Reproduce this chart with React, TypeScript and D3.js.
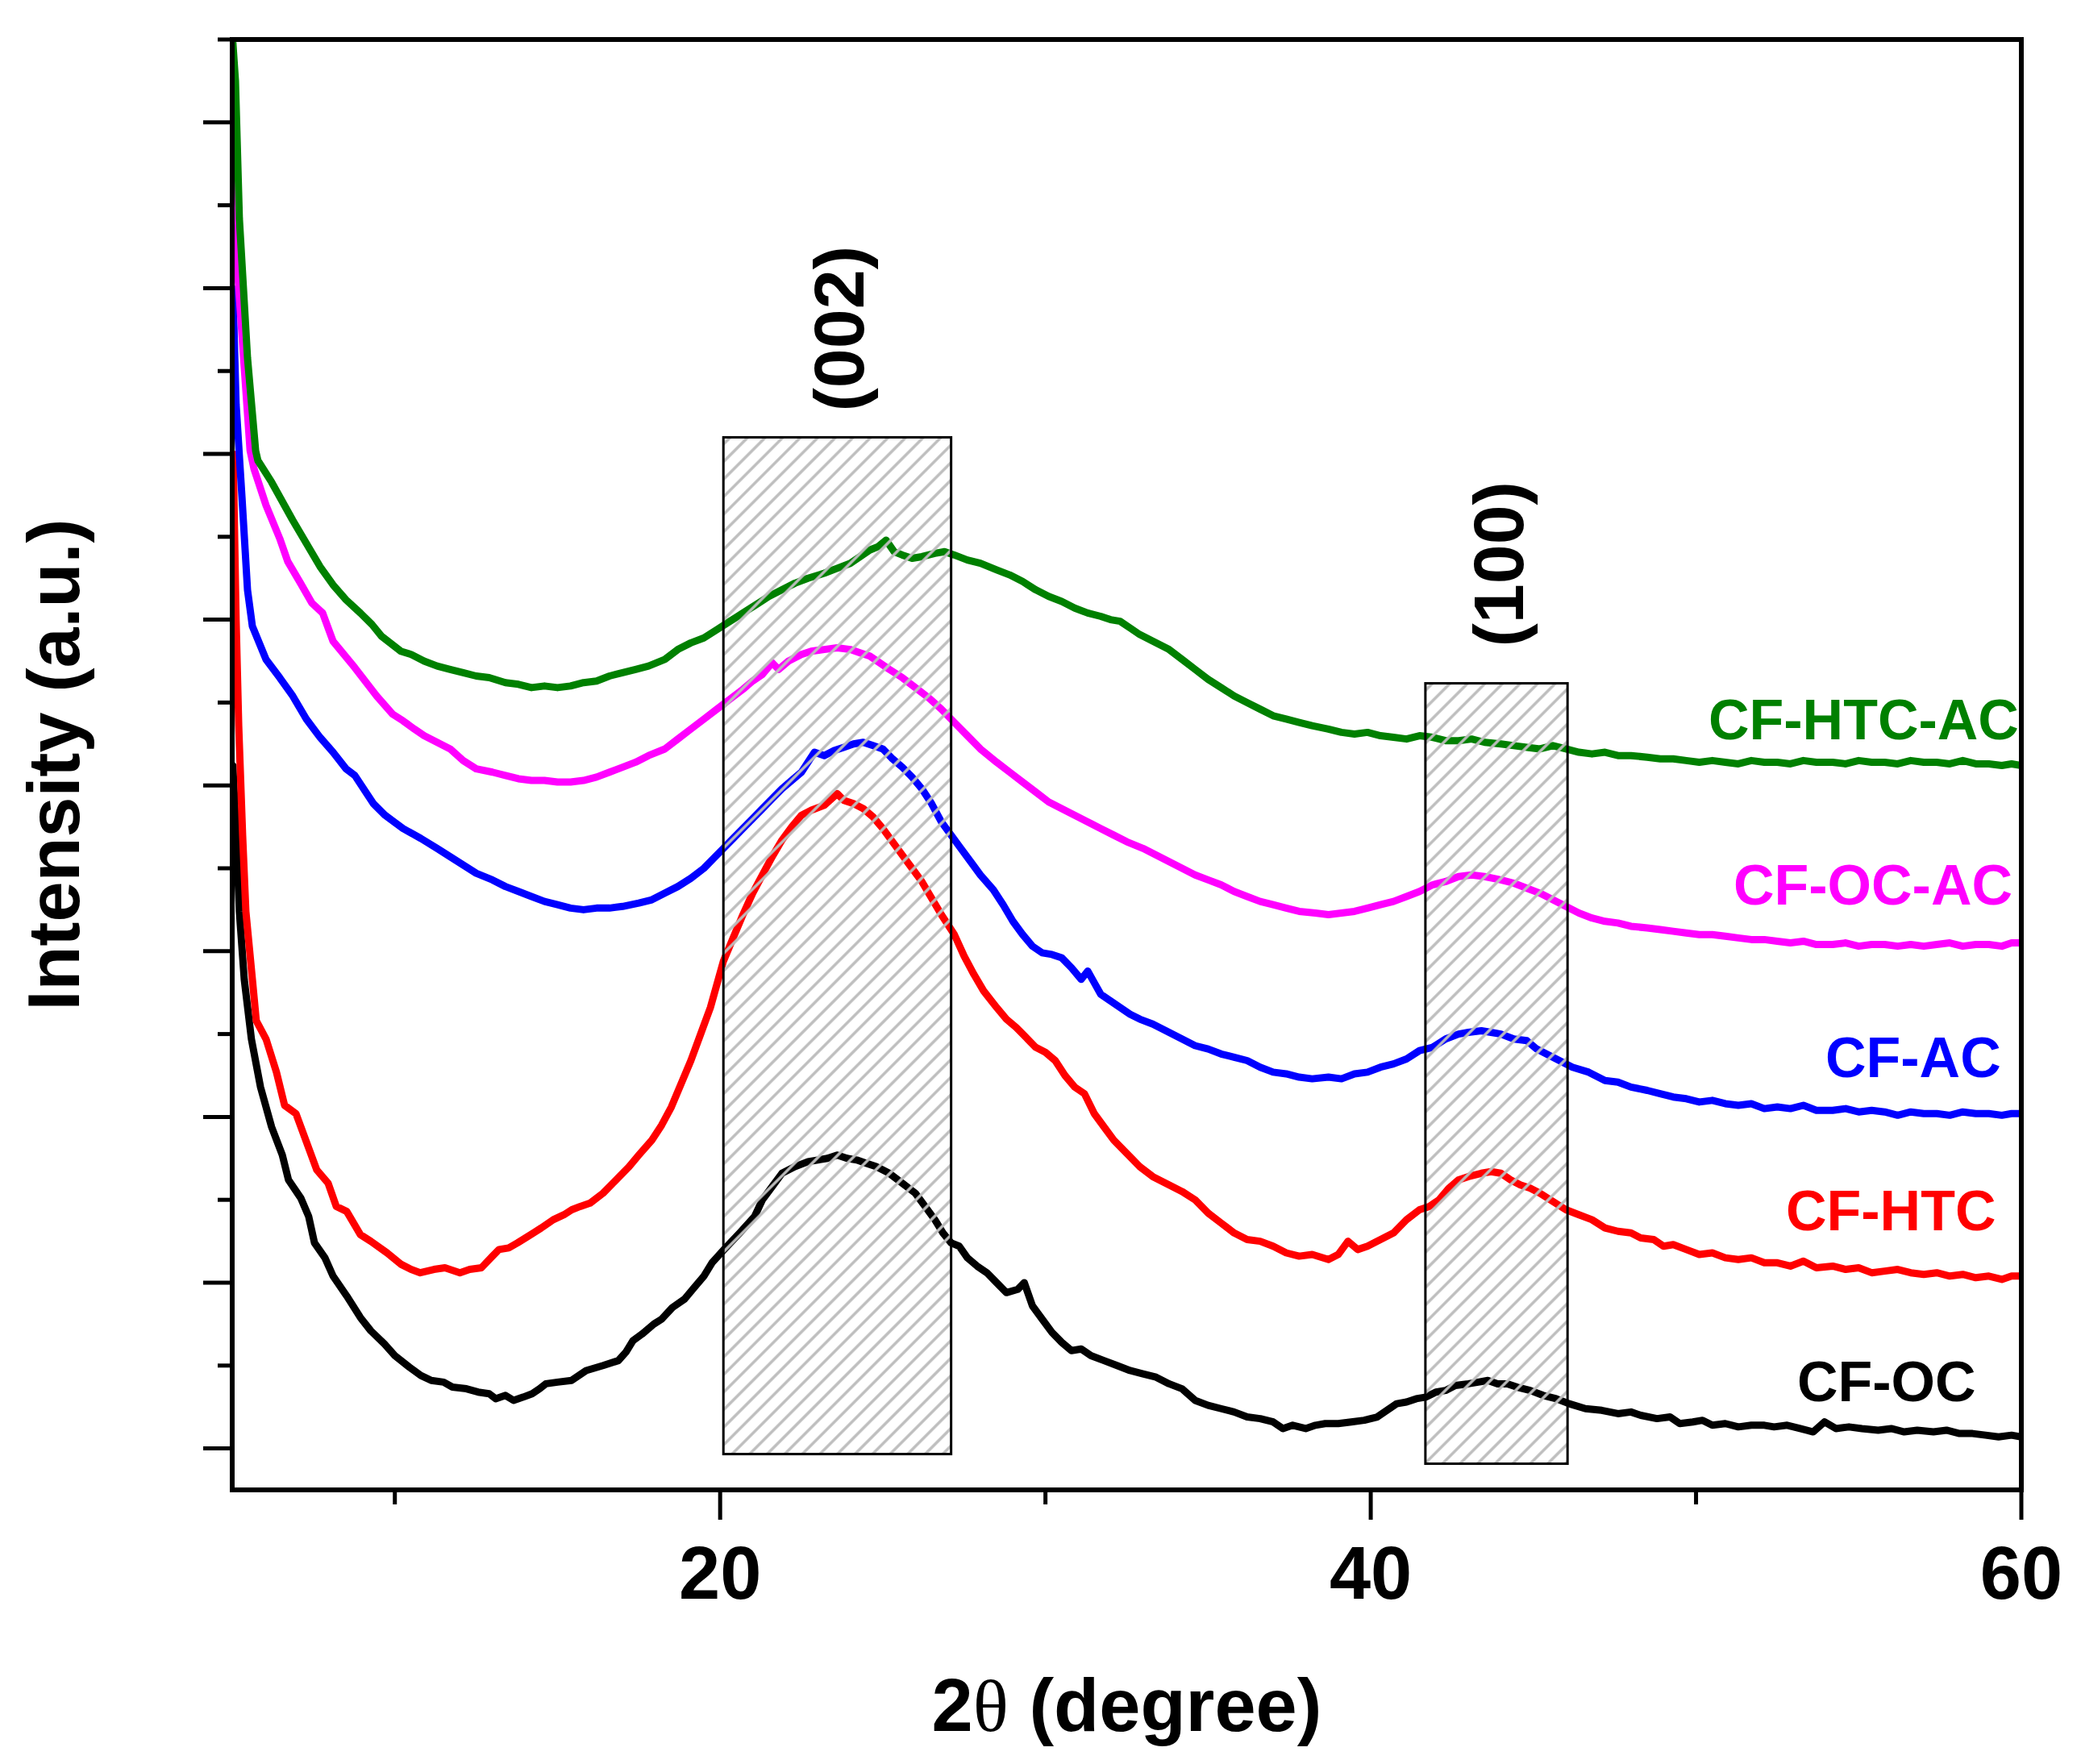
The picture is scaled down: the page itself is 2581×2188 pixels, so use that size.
import React from 'react';
import * as d3 from 'd3';

// ---- data: XRD patterns, 2θ (degree) vs intensity (a.u.) ----
const cfOC: [number, number][] = [
  [5.02, 412], [5.1, 380], [5.22, 324], [5.37, 283], [5.59, 247], [5.87, 218], [6.21, 194], [6.54, 177],
  [6.73, 162], [7.11, 151], [7.35, 140], [7.53, 124], [7.85, 115], [8.1, 104], [8.52, 92], [8.94, 79],
  [9.26, 71], [9.68, 63], [10.0, 56], [10.45, 49], [10.8, 44], [11.12, 41], [11.5, 40], [11.77, 37],
  [12.2, 36], [12.56, 34], [12.9, 33], [13.1, 30], [13.4, 32], [13.65, 29], [13.95, 31], [14.22, 33],
  [14.45, 36], [14.64, 39], [15.0, 40], [15.43, 41], [15.88, 47], [16.4, 50], [16.87, 53], [17.1, 58],
  [17.32, 65], [17.6, 69], [17.96, 75], [18.2, 78], [18.53, 85], [18.9, 90], [19.2, 97], [19.5, 104],
  [19.75, 112], [20.12, 120], [20.6, 130], [21.06, 140], [21.3, 150], [21.6, 158], [21.9, 166], [22.3, 170],
  [22.7, 173], [23.0, 174], [23.3, 175], [23.6, 177], [23.9, 175], [24.2, 174], [24.5, 172], [24.8, 170],
  [25.2, 166], [25.6, 160], [26.0, 154], [26.3, 146], [26.6, 138], [26.85, 130], [27.1, 124], [27.35, 122],
  [27.6, 115], [27.9, 110], [28.2, 106], [28.5, 100], [28.8, 94], [29.15, 96], [29.35, 100], [29.6, 86],
  [29.9, 78], [30.2, 70], [30.5, 64], [30.8, 59], [31.1, 60], [31.4, 56], [31.8, 53], [32.2, 50],
  [32.6, 47], [33.0, 45], [33.4, 43], [33.8, 39], [34.2, 36], [34.6, 29], [35.0, 26], [35.4, 24],
  [35.8, 22], [36.2, 19], [36.6, 18], [37.0, 16], [37.3, 12], [37.6, 14], [38.0, 12], [38.3, 14],
  [38.6, 15], [39.0, 15], [39.4, 16], [39.8, 17], [40.2, 19], [40.5, 23], [40.8, 27], [41.1, 28],
  [41.4, 30], [41.7, 31], [42.0, 34], [42.3, 35], [42.6, 38], [43.0, 39], [43.3, 40], [43.6, 41],
  [43.9, 39], [44.2, 39], [44.5, 37], [44.9, 35], [45.3, 32], [45.7, 30], [46.1, 27], [46.6, 24],
  [47.1, 23], [47.6, 21], [48.0, 22], [48.3, 20], [48.8, 18], [49.2, 19], [49.5, 15], [49.9, 16],
  [50.2, 17], [50.5, 14], [50.9, 15], [51.3, 13], [51.7, 14], [52.1, 14], [52.4, 13], [52.8, 14],
  [53.2, 12], [53.6, 10], [53.95, 16], [54.3, 12], [54.7, 13], [55.1, 12], [55.6, 11], [56.0, 12],
  [56.4, 10], [56.8, 11], [57.3, 10], [57.7, 11], [58.1, 9], [58.5, 9], [58.9, 8], [59.3, 7],
  [59.7, 8], [60, 7],
];

const cfHTC: [number, number][] = [
  [5.03, 600], [5.12, 500], [5.2, 436], [5.32, 370], [5.42, 324], [5.62, 283], [5.74, 258], [6.04, 247],
  [6.36, 227], [6.61, 207], [6.96, 202], [7.28, 185], [7.6, 168], [7.95, 160], [8.2, 146], [8.52, 143],
  [8.94, 129], [9.26, 125], [9.76, 118], [10.2, 111], [10.5, 108], [10.78, 106], [11.2, 108], [11.54, 109],
  [12.0, 106], [12.3, 108], [12.66, 109], [13.0, 116], [13.2, 120], [13.5, 121], [13.77, 124], [14.1, 128],
  [14.5, 133], [14.87, 138], [15.2, 141], [15.44, 144], [15.7, 146], [16.0, 148], [16.4, 154], [16.8, 162],
  [17.2, 170], [17.5, 177], [17.9, 186], [18.2, 195], [18.5, 206], [18.8, 220], [19.1, 234], [19.4, 250],
  [19.7, 266], [20.1, 294], [20.4, 308], [20.7, 322], [21.0, 335], [21.3, 346], [21.6, 357], [21.9, 367],
  [22.2, 375], [22.5, 382], [22.8, 385], [23.2, 388], [23.6, 395], [23.8, 391], [24.1, 389], [24.4, 386],
  [24.7, 381], [25.0, 374], [25.3, 366], [25.6, 358], [25.9, 350], [26.2, 342], [26.5, 332], [26.8, 322],
  [27.2, 310], [27.5, 297], [27.8, 286], [28.1, 276], [28.5, 266], [28.8, 259], [29.1, 254], [29.4, 248],
  [29.7, 242], [30.0, 239], [30.3, 234], [30.6, 225], [30.9, 218], [31.2, 214], [31.5, 202], [31.8, 194],
  [32.1, 186], [32.5, 178], [32.9, 170], [33.3, 164], [33.8, 159], [34.2, 155], [34.6, 150], [35.0, 142],
  [35.4, 136], [35.8, 130], [36.2, 126], [36.6, 125], [37.0, 122], [37.4, 118], [37.8, 116], [38.2, 117],
  [38.7, 114], [39.0, 117], [39.3, 125], [39.6, 120], [39.9, 122], [40.3, 126], [40.7, 130], [41.1, 138],
  [41.5, 144], [41.8, 146], [42.1, 150], [42.4, 157], [42.7, 162], [43.0, 164], [43.4, 166], [43.7, 167],
  [44.0, 166], [44.3, 162], [44.6, 159], [44.9, 157], [45.2, 154], [45.6, 149], [46.0, 144], [46.4, 141],
  [46.8, 138], [47.2, 133], [47.6, 131], [48.0, 130], [48.3, 127], [48.7, 126], [49.0, 122], [49.3, 123],
  [49.7, 120], [50.1, 117], [50.5, 118], [50.9, 115], [51.3, 114], [51.7, 115], [52.1, 112], [52.5, 112],
  [52.9, 110], [53.3, 113], [53.7, 109], [54.2, 110], [54.6, 108], [55.0, 109], [55.4, 106], [55.8, 107],
  [56.2, 108], [56.6, 106], [57.0, 105], [57.4, 106], [57.8, 104], [58.2, 105], [58.6, 103], [59.0, 104],
  [59.4, 102], [59.7, 104], [60, 104],
];

const cfAC: [number, number][] = [
  [5.02, 700], [5.12, 630], [5.3, 574], [5.47, 518], [5.62, 496], [6.04, 476], [6.46, 465], [6.86, 454],
  [7.28, 440], [7.7, 429], [8.1, 420], [8.5, 410], [8.77, 406], [9.34, 389], [9.7, 382], [10.25, 374],
  [10.8, 368], [11.3, 362], [11.7, 357], [12.1, 352], [12.5, 347], [13.0, 343], [13.4, 339], [13.8, 336],
  [14.2, 333], [14.6, 330], [15.0, 328], [15.4, 326], [15.8, 325], [16.2, 326], [16.6, 326], [17.0, 327],
  [17.5, 329], [17.9, 331], [18.3, 335], [18.7, 339], [19.1, 344], [19.5, 350], [19.8, 356], [20.1, 362],
  [20.4, 368], [20.7, 374], [21.0, 380], [21.3, 386], [21.6, 392], [21.9, 398], [22.2, 403], [22.5, 408],
  [22.9, 420], [23.2, 418], [23.5, 421], [23.8, 423], [24.1, 425], [24.4, 426], [24.7, 424], [25.0, 422],
  [25.3, 416], [25.6, 411], [25.9, 405], [26.2, 398], [26.5, 389], [26.8, 378], [27.1, 370], [27.4, 362],
  [27.7, 354], [28.0, 346], [28.4, 337], [28.7, 328], [29.0, 318], [29.3, 310], [29.6, 303], [29.9, 299],
  [30.2, 298], [30.5, 296], [30.8, 290], [31.1, 283], [31.3, 288], [31.5, 281], [31.7, 274], [32.0, 270],
  [32.3, 266], [32.6, 262], [32.9, 259], [33.3, 256], [33.8, 251], [34.2, 247], [34.6, 243], [35.0, 241],
  [35.4, 238], [35.8, 236], [36.2, 234], [36.6, 230], [37.0, 227], [37.4, 226], [37.8, 224], [38.2, 223],
  [38.7, 224], [39.1, 223], [39.5, 226], [39.9, 227], [40.3, 230], [40.7, 232], [41.1, 235], [41.5, 240],
  [41.9, 242], [42.3, 247], [42.7, 250], [43.0, 251], [43.4, 252], [43.7, 251], [44.0, 250], [44.4, 247],
  [44.8, 246], [45.1, 241], [45.4, 238], [45.8, 234], [46.2, 230], [46.7, 227], [47.2, 222], [47.6, 221],
  [48.0, 218], [48.5, 216], [48.9, 214], [49.3, 212], [49.7, 211], [50.1, 209], [50.5, 210], [50.9, 208],
  [51.3, 207], [51.7, 208], [52.1, 205], [52.5, 206], [52.9, 205], [53.3, 207], [53.7, 204], [54.2, 204],
  [54.6, 205], [55.0, 203], [55.4, 204], [55.8, 203], [56.2, 201], [56.6, 203], [57.0, 202], [57.4, 202],
  [57.8, 201], [58.2, 203], [58.6, 202], [59.0, 202], [59.4, 201], [59.7, 202], [60, 202],
];

const cfOCAC: [number, number][] = [
  [5.0, 800], [5.05, 742], [5.2, 700], [5.35, 658], [5.55, 602], [5.67, 591], [6.04, 569], [6.46, 549],
  [6.71, 535], [7.1, 522], [7.45, 510], [7.78, 504], [8.1, 487], [8.77, 471], [9.44, 454], [9.93, 443],
  [10.25, 439], [10.6, 434], [10.9, 430], [11.3, 426], [11.7, 422], [12.1, 415], [12.5, 410], [13.0, 408],
  [13.4, 406], [13.8, 404], [14.2, 403], [14.6, 403], [15.0, 402], [15.4, 402], [15.8, 403], [16.2, 405],
  [16.6, 408], [17.0, 411], [17.4, 414], [17.8, 418], [18.3, 422], [18.7, 428], [19.1, 434], [19.5, 440],
  [19.9, 446], [20.3, 452], [20.7, 458], [21.0, 463], [21.3, 467], [21.6, 474], [21.8, 470], [22.1, 475],
  [22.5, 479], [22.8, 481], [23.2, 482], [23.6, 483], [24.0, 482], [24.3, 480], [24.6, 478], [24.9, 474],
  [25.2, 470], [25.6, 465], [26.0, 459], [26.4, 453], [26.8, 446], [27.2, 438], [27.6, 430], [28.0, 422],
  [28.5, 414], [28.9, 408], [29.3, 402], [29.7, 396], [30.1, 390], [30.5, 386], [30.9, 382], [31.3, 378],
  [31.7, 374], [32.1, 370], [32.5, 366], [33.0, 362], [33.4, 358], [33.8, 354], [34.2, 350], [34.6, 346],
  [35.0, 343], [35.4, 340], [35.8, 336], [36.2, 333], [36.6, 330], [37.0, 328], [37.4, 326], [37.8, 324],
  [38.3, 323], [38.7, 322], [39.1, 323], [39.5, 324], [39.9, 326], [40.3, 328], [40.7, 330], [41.1, 333],
  [41.5, 336], [41.9, 340], [42.3, 342], [42.7, 345], [43.1, 346], [43.5, 345], [44.0, 343], [44.4, 341],
  [44.8, 338], [45.2, 335], [45.6, 331], [46.0, 327], [46.4, 323], [46.8, 320], [47.2, 318], [47.6, 317],
  [48.0, 315], [48.5, 314], [48.9, 313], [49.3, 312], [49.7, 311], [50.1, 310], [50.5, 310], [50.9, 309],
  [51.3, 308], [51.7, 307], [52.1, 307], [52.5, 306], [52.9, 305], [53.3, 306], [53.7, 304], [54.2, 304],
  [54.6, 305], [55.0, 303], [55.4, 304], [55.8, 304], [56.2, 303], [56.6, 304], [57.0, 303], [57.4, 304],
  [57.8, 305], [58.2, 303], [58.6, 304], [59.0, 304], [59.4, 303], [59.7, 305], [60, 305],
];

const cfHTCAC: [number, number][] = [
  [5.02, 848], [5.1, 825], [5.22, 742], [5.47, 658], [5.72, 602], [5.79, 596], [6.21, 583], [6.86, 560],
  [7.28, 546], [7.7, 532], [8.1, 521], [8.5, 512], [8.94, 504], [9.3, 497], [9.59, 490], [10.18, 481],
  [10.5, 479], [10.9, 475], [11.3, 472], [11.7, 470], [12.1, 468], [12.5, 466], [12.9, 465], [13.4, 462],
  [13.8, 461], [14.2, 459], [14.6, 460], [15.0, 459], [15.4, 460], [15.8, 462], [16.2, 463], [16.6, 466],
  [17.0, 468], [17.4, 470], [17.8, 472], [18.3, 476], [18.7, 482], [19.1, 486], [19.5, 489], [19.9, 494],
  [20.3, 499], [20.7, 504], [21.1, 509], [21.5, 514], [21.9, 518], [22.3, 522], [22.7, 525], [23.2, 528],
  [23.6, 531], [24.0, 534], [24.3, 538], [24.6, 542], [24.85, 544], [25.1, 548], [25.35, 541], [25.6, 539],
  [25.9, 537], [26.2, 538], [26.6, 540], [26.9, 541], [27.2, 539], [27.6, 536], [28.0, 534], [28.5, 530],
  [28.9, 527], [29.3, 523], [29.7, 518], [30.1, 514], [30.5, 511], [30.9, 507], [31.3, 504], [31.7, 502],
  [32.0, 500], [32.3, 499], [32.6, 495], [32.9, 491], [33.3, 487], [33.8, 482], [34.2, 476], [34.6, 470],
  [35.0, 464], [35.4, 459], [35.8, 454], [36.2, 450], [36.6, 446], [37.0, 442], [37.4, 440], [37.8, 438],
  [38.2, 436], [38.7, 434], [39.1, 432], [39.5, 431], [39.9, 432], [40.3, 430], [40.7, 429], [41.1, 428],
  [41.5, 430], [41.9, 429], [42.3, 427], [42.7, 427], [43.1, 428], [43.5, 426], [44.0, 425], [44.4, 424],
  [44.8, 423], [45.2, 422], [45.6, 424], [46.0, 422], [46.4, 420], [46.8, 419], [47.2, 420], [47.6, 418],
  [48.0, 418], [48.5, 417], [48.9, 416], [49.3, 416], [49.7, 415], [50.1, 414], [50.5, 415], [50.9, 414],
  [51.3, 413], [51.7, 415], [52.1, 414], [52.5, 414], [52.9, 413], [53.3, 415], [53.7, 414], [54.2, 414],
  [54.6, 413], [55.0, 415], [55.4, 414], [55.8, 414], [56.2, 413], [56.6, 415], [57.0, 414], [57.4, 414],
  [57.8, 413], [58.2, 415], [58.6, 413], [59.0, 413], [59.4, 412], [59.7, 413], [60, 412],
];

const seriesNames = ['CF-OC', 'CF-HTC', 'CF-AC', 'CF-OC-AC', 'CF-HTC-AC'];
const seriesData = [cfOC, cfHTC, cfAC, cfOCAC, cfHTCAC];
const seriesColors = ['#000000', '#ff0000', '#0000ff', '#ff00ff', '#008000'];

// reflection bands (2θ range, intensity range) and their hkl labels
const bandLabels = ['(002)', '(100)'];
const bandX: [number, number][] = [[20.1, 27.1], [41.68, 46.05]];
const bandY: [number, number][] = [[-3.4, 610], [-9.2, 461.6]];

const xDomain: [number, number] = [5, 60];
const yDomain: [number, number] = [-25, 850];
const xMajorTicks = [20, 40, 60];
const xMinorTicks = [10, 30, 50];
const yTicks = [0, 50, 100, 150, 200, 250, 300, 350, 400, 450, 500, 550, 600, 650, 700, 750, 800, 850];

// ---- layout ----
const W = 2581;
const H = 2188;
const PL = 288;
const PR = 2507;
const PT = 49;
const PB = 1848;
const FONT = "'Liberation Sans', Arial, Helvetica, sans-serif";
const labelPos = [
  { x: 2229, y: 1738 },
  { x: 2215, y: 1526 },
  { x: 2264, y: 1336 },
  { x: 2150, y: 1122 },
  { x: 2119, y: 917 },
];
const bandLabelGap = [32, 45];

export default function App() {
  const x = d3.scaleLinear().domain(xDomain).range([PL, PR]);
  const y = d3.scaleLinear().domain(yDomain).range([PB, PT]);
  const line = d3
    .line<[number, number]>()
    .x((d) => x(d[0]))
    .y((d) => y(d[1]));

  return (
    <div style={{ position: 'absolute', left: 0, top: 0, width: W, height: H, background: '#fff' }}>
      <svg width={W} height={H} viewBox={`0 0 ${W} ${H}`} style={{ display: 'block' }}>
        <defs>
          <clipPath id="plot-clip">
            <rect x={PL} y={PT} width={PR - PL} height={PB - PT} />
          </clipPath>
          <pattern
            id="hatch"
            patternUnits="userSpaceOnUse"
            width={15.4}
            height={15.4}
            patternTransform="rotate(45)"
          >
            <line x1={7.7} y1={0} x2={7.7} y2={15.4} stroke="#bdbdbd" strokeWidth={3.4} />
          </pattern>
        </defs>
        <rect x={0} y={0} width={W} height={H} fill="#fff" />

        {/* diffraction curves */}
        <g clipPath="url(#plot-clip)">
          {seriesData.map((d, i) => (
            <path
              key={seriesNames[i]}
              d={line(d) || ''}
              fill="none"
              stroke={seriesColors[i]}
              strokeWidth={9}
              strokeLinejoin="round"
              strokeLinecap="round"
            />
          ))}
        </g>

        {/* hatched reflection bands */}
        {bandLabels.map((lab, i) => {
          const x0 = x(bandX[i][0]);
          const x1 = x(bandX[i][1]);
          const yTop = y(bandY[i][1]);
          const yBot = y(bandY[i][0]);
          const cx = (x0 + x1) / 2;
          return (
            <g key={lab}>
              <rect
                x={x0}
                y={yTop}
                width={x1 - x0}
                height={yBot - yTop}
                fill="url(#hatch)"
                stroke="#000"
                strokeWidth={3}
              />
              <text
                transform={`translate(${cx + 33},${yTop - bandLabelGap[i]}) rotate(-90)`}
                textAnchor="start"
                fontFamily={FONT}
                fontWeight="bold"
                fontSize={88}
                fill="#000"
              >
                {lab}
              </text>
            </g>
          );
        })}

        {/* series labels */}
        {seriesNames.map((name, i) => (
          <text
            key={name}
            x={labelPos[i].x}
            y={labelPos[i].y}
            fontFamily={FONT}
            fontWeight="bold"
            fontSize={70}
            fill={seriesColors[i]}
          >
            {name}
          </text>
        ))}

        {/* frame */}
        <g stroke="#000" strokeWidth={6} fill="none" strokeLinecap="square">
          <line x1={PL} y1={PT} x2={PR} y2={PT} />
          <line x1={PR} y1={PT} x2={PR} y2={PB} />
          <line x1={PL} y1={PB} x2={PR} y2={PB} />
          <line x1={PL} y1={PT} x2={PL} y2={PB} />
        </g>

        {/* x ticks */}
        <g stroke="#000" strokeWidth={5}>
          {xMajorTicks.map((t) => (
            <line key={`M${t}`} x1={x(t)} y1={PB} x2={x(t)} y2={PB + 37} />
          ))}
          {xMinorTicks.map((t) => (
            <line key={`m${t}`} x1={x(t)} y1={PB} x2={x(t)} y2={PB + 18} />
          ))}
        </g>
        {xMajorTicks.map((t) => (
          <text
            key={`L${t}`}
            x={x(t)}
            y={1983}
            textAnchor="middle"
            fontFamily={FONT}
            fontWeight="bold"
            fontSize={92}
            fill="#000"
          >
            {t}
          </text>
        ))}

        {/* y ticks */}
        <g stroke="#000" strokeWidth={5}>
          {yTicks.map((t) => (
            <line
              key={`y${t}`}
              x1={PL}
              y1={y(t)}
              x2={PL - (t % 100 === 0 ? 36 : 18)}
              y2={y(t)}
            />
          ))}
        </g>

        {/* axis titles */}
        <text
          x={(PL + PR) / 2}
          y={2147}
          textAnchor="middle"
          fontFamily={FONT}
          fontWeight="bold"
          fontSize={92}
          fill="#000"
        >
          2<tspan fontFamily="'Liberation Serif', 'Times New Roman', serif" fontWeight="normal">θ</tspan> (degree)
        </text>
        <text
          transform={`translate(98,${(PT + PB) / 2}) rotate(-90)`}
          textAnchor="middle"
          fontFamily={FONT}
          fontWeight="bold"
          fontSize={90}
          fill="#000"
        >
          Intensity (a.u.)
        </text>
      </svg>
    </div>
  );
}
